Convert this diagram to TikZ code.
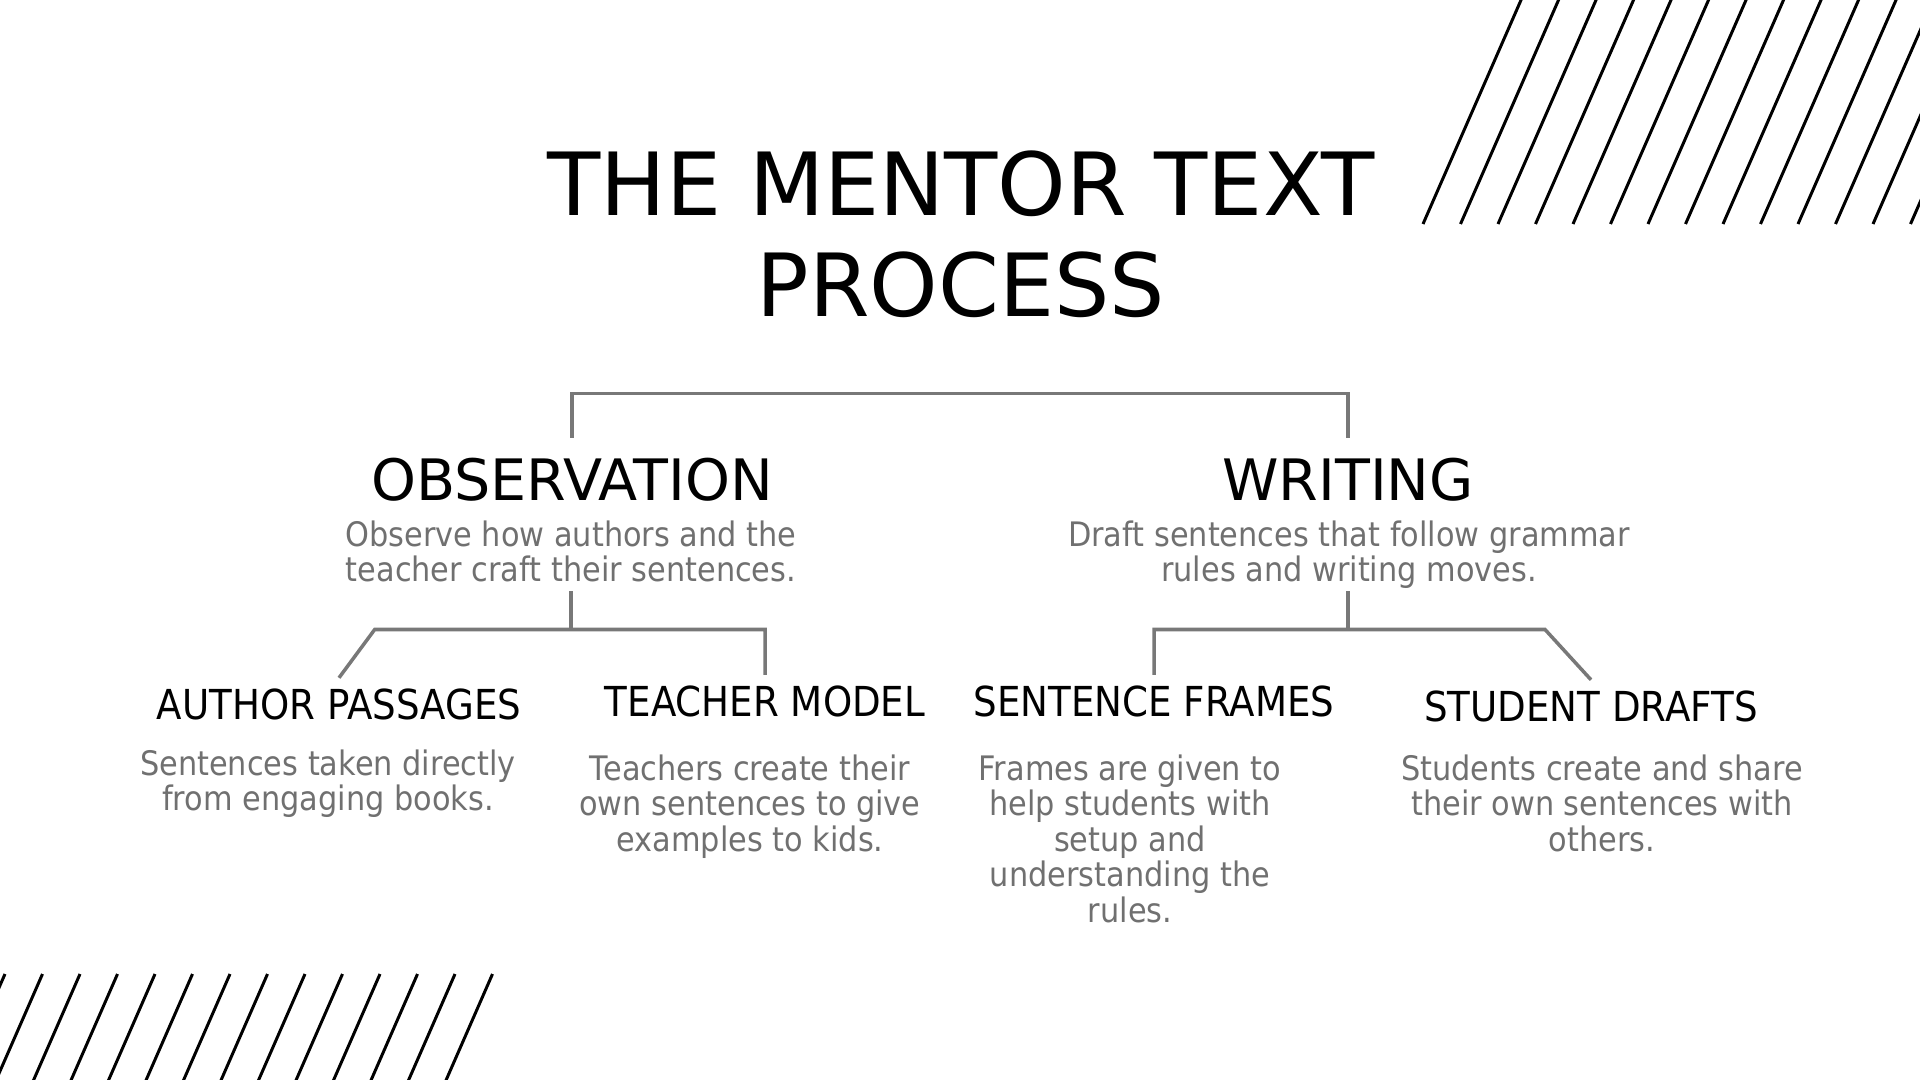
\documentclass[tikz,border=0pt]{standalone}
\usepackage{fontspec}
\setmainfont{DejaVu Sans}
\newfontfamily\condfont[FakeStretch=0.9]{DejaVu Sans}
\usepackage{tikz}
\usetikzlibrary{positioning}
\definecolor{linegray}{RGB}{120,120,120}
\definecolor{textgray}{RGB}{112,112,112}

\begin{document}
\begin{tikzpicture}[
		stripe/.style={line width=0.85pt, black},
		link/.style={line width=1pt, linegray},
		head/.style={anchor=base, inner sep=0pt, outer ysep=6pt, font=\fontsize{16.25}{19}\selectfont},
		subhead/.style={anchor=base, inner sep=0pt, outer ysep=3pt, font=\condfont\fontsize{11.75}{14}\selectfont},
		desc/.style={anchor=base, inner sep=0pt, outer ysep=2.6pt, align=center, text=textgray, font=\condfont\fontsize{9.6}{10.07}\selectfont}
	]
		\useasboundingbox (0,0) rectangle (19.2,-10.8);
		
		% 斜线装饰
		\begin{scope}
			\clip (0,0) rectangle (19.2,-10.8);
			\foreach \k in {0,...,13}
			\draw[stripe] ({14.23+0.375*\k},-2.24) -- ++(1.024,2.34);
			\foreach \k in {0,...,13}
			\draw[stripe] ({0.05+0.375*\k},-9.74) -- ++(-0.5075,-1.16);
		\end{scope}
		
		% 标题 (base = 最后一行)
		\node[anchor=base, align=center, font=\fontsize{24.8}{28.8}\selectfont] (title) at (9.61,-3.17) {THE MENTOR TEXT\\PROCESS};
		
		% 第一层
		\node[head] (obs) at (5.72,-5.01) {OBSERVATION};
		\node[head] (wri) at (13.48,-5.01) {WRITING};
		\node[desc] (obsd) at (5.71,-5.816) {Observe how authors and the\\teacher craft their sentences.};
		\node[desc] (wrid) at (13.49,-5.816) {Draft sentences that follow grammar\\rules and writing moves.};
		
		% 第二层
		\node[subhead] (auth) at (3.39,-7.19) {AUTHOR PASSAGES};
		\node[subhead] (teach) at (7.65,-7.16) {TEACHER MODEL};
		\node[subhead] (frame) at (11.54,-7.16) {SENTENCE FRAMES};
		\node[subhead] (draft) at (15.91,-7.21) {STUDENT DRAFTS};
		
		\node[desc] (authd) at (3.28,-8.106) {Sentences taken directly\\from engaging books.};
		\node[desc] (teachd) at (7.50,-8.51) {Teachers create their\\own sentences to give\\examples to kids.};
		\node[desc] (framed) at (11.30,-9.22) {Frames are given to\\help students with\\setup and\\understanding the\\rules.};
		\node[desc] (draftd) at (16.02,-8.51) {Students create and share\\their own sentences with\\others.};
		
		% 连线
		\coordinate (obsj) at (5.71,-6.295);
		\coordinate (obsl) at (3.747,-6.295);
		\coordinate (wrij) at (13.48,-6.295);
		\coordinate (wrir) at (15.45,-6.295);
		
		\draw[link] (obs.north) -- ++(0,0.44) -| (wri.north);
		\draw[link] (obsd.south) -- (obsj);
		\draw[link] (auth.north) -- (obsl) -| (teach.north);
		\draw[link] (wrij |- obsd.south) -- (wrij);
		\draw[link] (frame.north) |- (wrir) -- (draft.north);
	\end{tikzpicture}
\end{document}
